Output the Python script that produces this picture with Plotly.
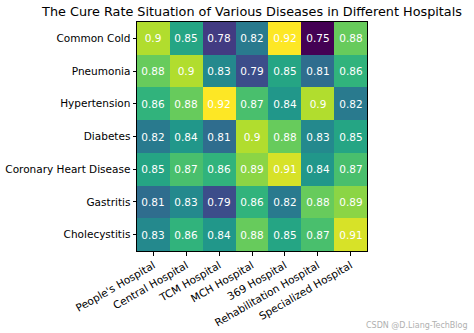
import plotly.graph_objects as go

hospitals = ["People's Hospital", "Central Hospital", "TCM Hospital", "MCH Hospital",
             "369 Hospital", "Rehabilitation Hospital", "Specialized Hospital"]
diseases = ["Common Cold", "Pneumonia", "Hypertension", "Diabetes",
            "Coronary Heart Disease", "Gastritis", "Cholecystitis"]
rates = [
    [0.90, 0.85, 0.78, 0.82, 0.92, 0.75, 0.88],
    [0.88, 0.90, 0.83, 0.79, 0.85, 0.81, 0.86],
    [0.86, 0.88, 0.92, 0.87, 0.84, 0.90, 0.82],
    [0.82, 0.84, 0.81, 0.90, 0.88, 0.83, 0.85],
    [0.85, 0.87, 0.86, 0.89, 0.91, 0.84, 0.87],
    [0.81, 0.83, 0.79, 0.86, 0.82, 0.88, 0.89],
    [0.83, 0.86, 0.84, 0.88, 0.85, 0.87, 0.91],
]
labels = [[("%g" % v) for v in row] for row in rates]

font = "DejaVu Sans, sans-serif"
fig = go.Figure(go.Heatmap(
    z=rates, x=hospitals, y=diseases,
    colorscale="Viridis", showscale=False,
    text=labels, texttemplate="%{text}",
    textfont=dict(color="white", size=10.5, family=font),
    xgap=0, ygap=0,
))
fig.update_layout(
    width=474, height=333,
    margin=dict(l=137, r=107, t=22, b=82),
    paper_bgcolor="white", plot_bgcolor="white",
    title=dict(text="The Cure Rate Situation of Various Diseases in Different Hospitals",
               x=(137 + 367) / 2 / 474, xanchor="center", y=1 - 12 / 333, yanchor="middle",
               font=dict(size=12.8, color="black", family=font)),
    font=dict(family=font, color="black", size=10.5),
)
fig.update_xaxes(tickangle=-30, ticks="outside", ticklen=3.5, tickcolor="black",
                 showline=True, linecolor="black", linewidth=1, mirror=True, automargin=False,
                 tickfont=dict(size=10.5, color="black"), showgrid=False, zeroline=False)
fig.update_yaxes(autorange="reversed", ticks="outside", ticklen=3.5, tickcolor="black",
                 showline=True, linecolor="black", linewidth=1, mirror=True, automargin=False,
                 tickfont=dict(size=10.5, color="black"), showgrid=False, zeroline=False)
fig.add_annotation(text="CSDN @D.Liang-TechBlog", xref="paper", yref="paper",
                   x=(474 - 4 - 137) / 230, y=-(325 - 251) / 229, xanchor="right", yanchor="middle",
                   showarrow=False, font=dict(size=8, color="#b0b0b0", family=font))
fig.write_html("out.html")
